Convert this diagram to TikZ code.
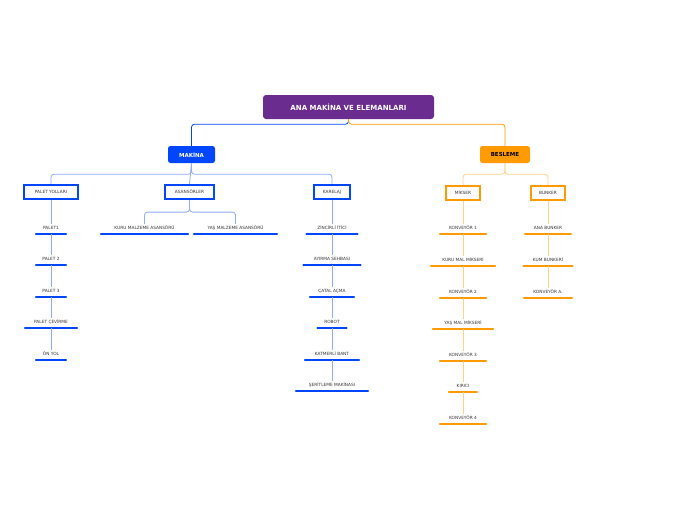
\documentclass[tikz,border=0pt]{standalone}
\usepackage{fontspec}
\setmainfont{DejaVu Sans}
\definecolor{purp}{HTML}{6A2C8E}
\definecolor{mblue}{HTML}{0046FF}
\definecolor{lblue}{HTML}{8EABFF}
\definecolor{morg}{HTML}{FF9A00}
\definecolor{lorg}{HTML}{FFD28A}
\definecolor{txt}{HTML}{333333}
\begin{document}
\begin{tikzpicture}[x=1pt,y=-1pt,
  root/.style={fill=purp,rounded corners=3pt,text=white,font=\bfseries\fontsize{7}{8}\selectfont,minimum width=171pt,minimum height=24pt,inner sep=0pt},
  l1/.style={rounded corners=2.5pt,font=\bfseries\fontsize{5.5}{6}\selectfont,minimum height=17pt,inner sep=0pt},
  l2/.style={draw=#1,line width=2.2pt,fill=white,text=txt,font=\fontsize{4.3}{5}\selectfont,minimum height=14pt,inner sep=0pt},
  lf/.style={text=txt,font=\fontsize{4.3}{5}\selectfont,inner sep=1pt,minimum height=8pt},
  ul/.style={line width=2.2pt,line cap=round,#1},
  cb/.style={lblue,line width=0.8pt,rounded corners=3pt},
  co/.style={lorg,line width=0.8pt,rounded corners=3pt}]
\useasboundingbox (0,0) rectangle (697,520);
\newcommand\leaf[6]{\node[lf] (#1) at (#2,#3) {#5};
  \draw[ul=#6] (#2-#4/2,#3+6) -- (#2+#4/2,#3+6);
  \coordinate (#1b) at (#2,#3+6);}
\node[root] (root) at (348.5,107) {ANA MAKİNA VE ELEMANLARI};
\node[l1,fill=mblue,text=white,minimum width=47pt] (mak) at (191.5,154.5) {MAKİNA};
\node[l1,fill=morg,text=black,minimum width=50pt] (bes) at (505,154.5) {BESLEME};
\draw[mblue,line width=0.8pt,rounded corners=3pt] (root.south) -- ++(0,5) -| (mak.north);
\draw[morg,line width=0.8pt,rounded corners=3pt] (root.south) -- ++(0,5) -| (bes.north);
\node[l2=mblue,minimum width=54pt] (py) at (51,192) {PALET YOLLARI};
\node[l2=mblue,minimum width=49pt] (as) at (189.5,192) {ASANSÖRLER};
\node[l2=mblue,minimum width=36pt] (ka) at (332,192) {KARELAJ};
\node[l2=morg,minimum width=34pt] (mi) at (463,193) {MİKSER};
\node[l2=morg,minimum width=34pt] (bu) at (548,193) {BUNKER};
\draw[cb] (mak.south) -- ++(0,11) -| (py.north);
\draw[cb] (mak.south) -- ++(0,11) -| (ka.north);
\draw[cb] (mak.south) -- (as.north);
\draw[co] (bes.south) -- ++(0,11) -| (mi.north);
\draw[co] (bes.south) -- ++(0,11) -| (bu.north);
% PALET YOLLARI
\leaf{p1}{51}{228}{30}{PALET1}{mblue}
\leaf{p2}{51}{259}{30}{PALET 2}{mblue}
\leaf{p3}{51}{291}{30}{PALET 3}{mblue}
\leaf{p4}{51}{322}{52}{PALET ÇEVİRME}{mblue}
\leaf{p5}{51}{354}{30}{ÖN YOL}{mblue}
\draw[cb] (py.south) -- (p1.north);
\draw[cb] (p1b) -- (p2.north); \draw[cb] (p2b) -- (p3.north);
\draw[cb] (p3b) -- (p4.north); \draw[cb] (p4b) -- (p5.north);
% ASANSORLER
\leaf{a1}{144.5}{228}{87}{KURU MALZEME ASANSÖRÜ}{mblue}
\leaf{a2}{235.5}{228}{83}{YAŞ MALZEME ASANSÖRÜ}{mblue}
\draw[cb] (as.south) -- ++(0,12) -| (a1.north);
\draw[cb] (as.south) -- ++(0,12) -| (a2.north);
% KARELAJ
\leaf{k1}{332}{228}{51}{ZİNCİRLİ İTİCİ}{mblue}
\leaf{k2}{332}{259}{57}{AYIRMA SEHBASI}{mblue}
\leaf{k3}{332}{291}{44}{ÇATAL AÇMA}{mblue}
\leaf{k4}{332}{322}{29}{ROBOT}{mblue}
\leaf{k5}{332}{354}{54}{KATMERLİ BANT}{mblue}
\leaf{k6}{332}{385}{72}{ŞERİTLEME MAKİNASI}{mblue}
\draw[cb] (ka.south) -- (k1.north);
\draw[cb] (k1b) -- (k2.north); \draw[cb] (k2b) -- (k3.north);
\draw[cb] (k3b) -- (k4.north); \draw[cb] (k4b) -- (k5.north);
\draw[cb] (k5b) -- (k6.north);
% MIKSER
\leaf{m1}{463}{228}{46}{KONVEYÖR 1}{morg}
\leaf{m2}{463}{260}{64}{KURU MAL MİKSERİ}{morg}
\leaf{m3}{463}{292}{46}{KONVEYÖR 2}{morg}
\leaf{m4}{463}{323}{60}{YAŞ MAL MİKSERİ}{morg}
\leaf{m5}{463}{355}{46}{KONVEYÖR 3}{morg}
\leaf{m6}{463}{386}{28}{KIRICI}{morg}
\leaf{m7}{463}{418}{46}{KONVEYÖR 4}{morg}
\draw[co] (mi.south) -- (m1.north);
\draw[co] (m1b) -- (m2.north); \draw[co] (m2b) -- (m3.north);
\draw[co] (m3b) -- (m4.north); \draw[co] (m4b) -- (m5.north);
\draw[co] (m5b) -- (m6.north); \draw[co] (m6b) -- (m7.north);
% BUNKER
\leaf{b1}{548}{228}{46}{ANA BUNKER}{morg}
\leaf{b2}{548}{260}{49}{KUM BUNKERİ}{morg}
\leaf{b3}{548}{292}{48}{KONVEYÖR A.}{morg}
\draw[co] (bu.south) -- (b1.north);
\draw[co] (b1b) -- (b2.north); \draw[co] (b2b) -- (b3.north);
\end{tikzpicture}
\end{document}
